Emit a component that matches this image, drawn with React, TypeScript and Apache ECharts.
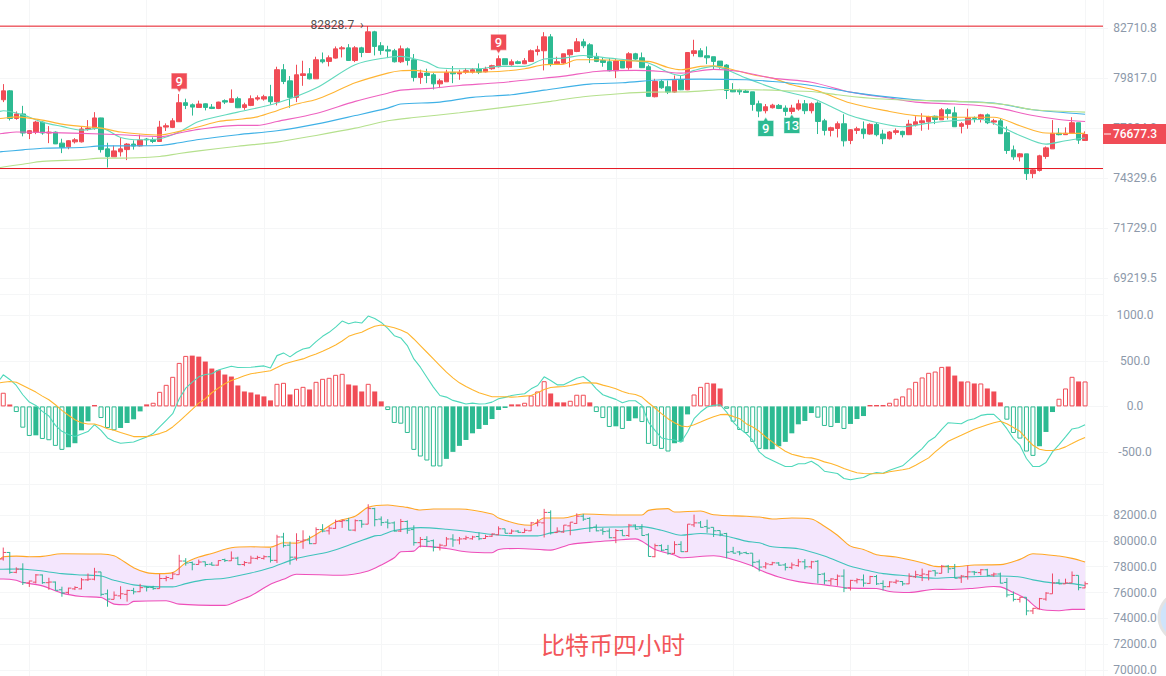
import React, { useEffect, useRef } from "react";
import * as echarts from "echarts";

const RED = "#f04c56";
const GREEN = "#2dba92";
const GRID_LINE = "#f5f6f7";
const LABEL = "#8d99aa";

// [open, close, low, high] per four-hour bar
const candles: number[][] = [
  [78600,79100,78470,79480],[79100,77560,77450,79140],[77560,77810,77490,77950],[77810,76760,76580,78260],
  [76740,76890,76430,76920],[76800,77360,76700,77430],[77360,76760,76670,77395],[76760,76810,76210,77140],
  [76810,76170,76160,76850],[76210,75970,75670,76450],[76010,76340,75880,76370],[76280,76390,76190,76485],
  [76280,76980,76245,77120],[76980,77030,76890,77470],[77030,77590,76940,77910],[77590,75860,75700,77600],
  [75900,75490,74900,76230],[75470,75790,75470,76080],[75740,75900,75490,76485],[75860,76160,75295,76210],
  [76160,76050,75860,76360],[76060,76375,76030,76670],[76430,76390,76080,76485],[76390,76300,76210,76520],
  [76300,77085,76300,77430],[77085,77160,76870,77290],[77070,77430,77030,77575],[77380,78435,77380,78920],
  [78435,78285,78080,78660],[78320,78190,77720,78395],[78170,78360,78170,78550],[78375,78170,78005,78395],
  [78190,78115,78080,78360],[78115,78470,78080,78490],[78550,78470,78360,78620],[78455,78660,78435,79180],
  [78660,78155,78135,78770],[78170,78320,78040,78435],[78285,78660,78245,78845],[78640,78715,78550,78845],
  [78640,78770,78550,78880],[78770,78490,78320,79440],[78490,80300,78285,80470],[80300,79630,79480,80620],
  [79665,78735,78155,79935],[78735,80010,78470,80585],[79970,80065,79385,80815],[80065,79780,79745,80395],
  [79780,80870,79780,81045],[80870,80755,80660,81290],[80775,80985,80490,81120],[80965,81500,80930,81640],
  [81500,81560,81005,81660],[81560,80830,80815,81775],[80830,81560,80735,81660],[81560,81290,81020,81620],
  [81290,82495,81290,82828.7],[82495,81640,81120,82555],[81680,81410,81160,81890],[81445,81370,80965,81680],
  [81390,80755,80715,81500],[80755,81500,80680,81695],[81500,80830,80545,81580],[80870,79860,79630,81200],
  [79860,80105,79495,80300],[80105,79970,79535,80355],[80010,79495,79180,80105],[79495,79665,79255,79780],
  [79610,80145,79610,80300],[80145,80065,79535,80510],[80065,80145,79725,80300],[80160,80240,80065,80395],
  [80160,80300,80085,80395],[80335,80160,80050,80660],[80180,80335,80145,80470],[80355,80530,80300,80585],
  [80470,80930,80430,81120],[80930,80585,80585,80930],[80585,80755,80530,80890],[80755,80660,80620,80830],
  [80640,80815,80620,80965],[80775,81390,80755,81465],[81350,81445,81120,81680],[81390,82200,80260,82475],
  [82200,80620,80490,82360],[80640,80755,80620,81045],[80680,81215,80620,81215],[81160,81445,80430,81445],
  [81350,81910,81310,82125],[81910,81680,81540,82085],[81735,81005,80680,81830],[81065,80775,80735,81270],
  [80830,80715,80470,81005],[80755,80240,80200,80965],[80240,80795,79820,80910],[80795,80395,80395,80870],
  [80415,81215,80300,81310],[81215,80910,80870,81270],[80985,80415,80395,81290],[80470,78790,78790,80585],
  [78770,79630,78735,79780],[79630,79275,79215,79725],[79330,79030,78920,79685],[79030,79705,78990,79970],
  [79725,79160,79140,79970],[79160,81290,79140,81290],[81235,81390,81065,82030],[81390,81045,81025,81540],
  [81100,80985,80620,81640],[81045,80775,80300,81045],[80795,80510,80355,80795],[80565,79120,78640,80620],
  [79160,79045,79030,79535],[79140,79045,78880,79215],[79085,79010,78990,79160],[79045,78340,77990,79045],
  [78375,77970,77630,78550],[77990,78210,77840,78360],[78155,78300,78115,78375],[78285,78115,78080,78360],
  [78135,77950,77705,78285],[77950,78135,77800,78320],[78080,78375,77990,78600],[78375,77990,77800,78585],
  [77990,78375,77840,78450],[78415,77395,76705,78510],[77430,76905,76630,77540],[76905,77050,76575,77105],
  [77010,77270,76520,77395],[77270,76335,76030,77795],[76355,76940,76155,76980],[76905,76995,76705,77105],
  [76980,76725,76450,77395],[76705,77235,76670,77290],[77235,76670,76580,77360],[76705,76450,76155,76940],
  [76450,76815,76410,76870],[76795,76885,76670,77010],[76850,76670,76520,76885],[76670,77250,76650,77485],
  [77215,77375,77120,77685],[77325,77430,76885,77850],[77375,77650,76940,77705],[77685,77505,77250,77720],
  [77485,78040,77485,78135],[78040,77835,77505,78135],[77870,77105,77105,78210],[77125,77270,76740,77360],
  [77235,77595,76995,78100],[77595,77560,77340,77670],[77540,77760,77340,77815],[77760,77325,77250,77835],
  [77360,77430,77215,77540],[77430,76725,76705,77540],[76780,75810,75630,77125],[75845,75470,75310,76080],
  [75470,75630,75225,75670],[75630,74575,74240,75630],[74575,74775,74330,74810],[74740,75525,74685,75580],
  [75490,75955,75365,76030],[75900,76745,75900,77470],[76745,76670,76635,77030],[76670,76745,76670,77070],
  [76745,77325,76745,77630],[77325,76375,76170,77325],[76355,76677.3,76335,76850],
];

const priceLevels = [82828.7, 74844];
const priceTicks = [82710.8, 79817.0, 77024.0, 74329.6, 71729.0, 69219.5];
const macdTicks = [1000, 500, 0, -500];
const bollTicks = [82000, 80000, 78000, 76000, 74000, 72000, 70000];
const timeTicks = [4, 22, 40, 58, 76, 94, 112, 130, 148, 166];
const lastPrice = "76677.3";
const highLabel = "82828.7  ›";
const highBar = 56;
const titleText = "比特币四小时";

// [bar, tip price, text]
const sellTags: [number, number, string][] = [[27, 79059, "9"], [76, 81268, "9"]];
const buyTags: [number, number, string][] = [[117, 77592, "9"], [121, 77757, "13"]];

const ma1 = [[-0.5,77950],[0,77990],[3,77760],[6,77360],[9,77125],[12,76920],[15,77030],[18,76520],[21,76390],[24,76450],[27,76815],[30,77395],[36,77910],[42,78415],[48,79255],[54,80585],[59,81005],[61,81065],[63,80930],[65,80735],[67,80395],[70,80355],[73,80355],[76,80490],[80,80490],[83,80910],[86,80965],[89,81120],[93,80965],[97,80815],[99,80680],[102,80160],[104,79970],[106,80260],[109,80490],[111,80300],[114,79820],[119,79160],[124,78695],[127,78230],[130,77720],[134,77340],[138,77105],[142,77305],[146,77450],[150,77505],[153,77125],[156,76630],[160,76155],[163,76340],[166,76485]];
const ma2 = [[-0.5,77560],[0,77575],[2,77650],[6,77470],[9,77250],[12,77125],[15,77030],[18,76815],[21,76705],[24,76650],[27,76850],[30,77105],[33,77395],[36,77505],[39,77650],[42,77990],[45,78360],[48,78620],[51,79065],[54,79555],[59,80105],[61,80240],[63,80260],[66,80160],[70,80160],[76,80200],[80,80355],[83,80585],[86,80620],[88,80870],[91,80870],[97,80795],[99,80775],[102,80430],[104,80300],[107,80490],[109,80530],[112,80300],[115,80010],[118,79820],[121,79440],[125,79100],[130,78415],[136,77950],[140,77720],[146,77630],[152,77630],[156,77160],[160,76760],[166,76740]];
const ma3 = [[-0.5,76720],[0,76740],[2,76815],[6,76795],[12,76740],[18,76670],[24,76560],[27,76760],[30,76960],[36,77180],[39,77180],[42,77395],[48,77835],[54,78510],[59,78970],[61,79140],[66,79255],[70,79405],[76,79555],[81,79745],[86,79935],[91,80200],[97,80260],[101,80200],[104,80105],[109,80320],[113,80200],[118,79820],[124,79590],[130,79030],[136,78695],[140,78470],[146,78360],[152,78190],[158,77720],[162,77505],[166,77395]];
const ma4 = [[-0.5,75740],[0,75755],[3,75845],[6,75935],[12,75970],[15,76060],[18,76060],[24,76080],[27,76230],[30,76410],[36,76670],[42,76885],[48,77250],[54,77720],[59,78135],[61,78360],[67,78470],[72,78735],[78,78880],[83,79140],[90,79480],[95,79555],[101,79725],[107,79765],[114,79725],[118,79630],[124,79405],[131,78970],[140,78600],[146,78510],[152,78415],[158,78040],[166,77795]];
const ma5 = [[-0.5,74900],[0,74930],[3,75075],[6,75225],[12,75315],[15,75400],[18,75400],[24,75490],[27,75650],[30,75790],[36,76045],[42,76265],[48,76630],[54,77030],[59,77430],[63,77610],[70,77875],[78,78230],[84,78510],[89,78770],[95,78955],[99,79030],[105,79045],[111,79180],[115,79160],[118,79140],[120,79100],[124,79065],[128,78880],[134,78660],[142,78550],[149,78470],[154,78320],[158,78040],[166,77910]];

const macdHist = [150,22,-62,-234,-325,-318,-358,-372,-434,-478,-449,-405,-263,-164,15,-128,-237,-263,-237,-183,-142,-55,22,40,160,237,325,478,555,558,547,493,416,398,350,328,230,164,153,131,110,66,248,259,131,193,215,186,270,303,314,347,358,241,230,164,248,164,55,-40,-182,-190,-292,-478,-551,-595,-660,-660,-577,-500,-434,-369,-296,-248,-204,-139,-40,-18,22,22,40,120,164,277,142,44,44,62,128,128,44,-62,-128,-226,-219,-248,-160,-131,-172,-412,-434,-467,-496,-405,-387,-88,131,215,259,252,197,-26,-168,-259,-292,-390,-467,-471,-471,-438,-390,-296,-197,-160,-73,-124,-215,-226,-182,-248,-193,-139,-106,15,15,15,40,84,110,197,270,318,369,383,434,438,339,274,274,252,252,197,164,44,-146,-292,-354,-496,-544,-438,-281,-62,84,197,325,274,274];
const macdHollow = [0,2,3,4,6,7,8,9,15,16,17,23,24,25,26,27,28,42,43,45,46,48,49,50,51,52,56,59,60,61,62,63,64,65,66,67,80,81,82,83,87,88,89,91,92,93,95,98,99,100,101,102,106,107,108,111,112,113,114,115,116,125,126,127,129,136,137,138,139,140,141,142,143,144,148,150,154,155,156,157,158,162,163,164,166];

const dif = [[-0.5,296],[0,347],[1,296],[2,230],[3,128],[4,47],[5,11],[6,-55],[7,-106],[8,-208],[9,-274],[10,-310],[11,-332],[12,-303],[13,-277],[14,-201],[15,-263],[16,-347],[17,-383],[18,-405],[20,-391],[22,-336],[23,-299],[24,-226],[25,-153],[26,-80],[27,84],[28,201],[29,266],[30,325],[31,350],[32,358],[33,401],[35,442],[36,427],[38,431],[40,445],[41,423],[42,558],[43,588],[44,544],[45,595],[46,631],[47,646],[48,712],[49,770],[50,814],[51,872],[52,938],[53,909],[54,927],[55,916],[56,993],[57,967],[58,923],[59,858],[60,777],[61,752],[62,668],[63,522],[64,431],[65,321],[66,212],[67,120],[68,102],[69,66],[70,47],[71,26],[72,36],[73,26],[74,29],[75,47],[76,84],[77,99],[78,120],[79,131],[80,139],[81,193],[82,230],[83,325],[84,285],[85,237],[86,237],[87,274],[88,310],[89,328],[90,274],[91,193],[92,128],[93,102],[94,77],[95,40],[96,62],[97,62],[98,11],[99,-172],[100,-263],[101,-347],[102,-361],[103,-369],[104,-394],[105,-281],[106,-135],[107,-62],[108,-7],[109,11],[110,18],[111,-62],[112,-172],[113,-245],[114,-299],[115,-372],[116,-500],[117,-560],[119,-628],[120,-661],[121,-661],[122,-631],[123,-631],[124,-602],[125,-646],[126,-712],[128,-737],[129,-792],[130,-807],[131,-792],[132,-781],[133,-745],[134,-726],[135,-734],[136,-701],[138,-653],[139,-591],[140,-526],[141,-464],[142,-383],[143,-336],[144,-252],[145,-179],[147,-190],[148,-153],[149,-135],[150,-99],[151,-88],[152,-88],[153,-153],[154,-245],[155,-354],[156,-427],[157,-573],[158,-661],[159,-661],[160,-617],[161,-500],[162,-420],[163,-336],[164,-248],[165,-234],[166,-201]];
const dea = [[-0.5,259],[0,266],[1,274],[2,266],[3,230],[4,193],[5,157],[6,113],[7,73],[8,18],[9,-44],[10,-98],[11,-146],[12,-179],[13,-193],[14,-193],[15,-215],[16,-245],[17,-263],[18,-288],[19,-310],[20,-332],[22,-332],[23,-318],[24,-299],[25,-274],[26,-226],[27,-164],[28,-99],[29,-33],[30,36],[31,84],[32,150],[33,201],[34,248],[35,285],[36,310],[37,336],[38,358],[39,369],[40,380],[41,391],[42,427],[43,464],[44,485],[45,504],[46,522],[47,551],[48,577],[49,606],[50,639],[51,675],[52,719],[53,770],[54,796],[55,814],[56,850],[57,880],[58,894],[59,880],[60,865],[61,840],[62,807],[63,741],[64,668],[65,595],[66,522],[67,449],[68,376],[69,314],[70,259],[71,219],[72,183],[73,150],[74,128],[75,106],[76,106],[77,106],[78,102],[79,106],[80,113],[81,120],[82,150],[83,186],[84,208],[85,215],[86,219],[87,230],[88,245],[89,259],[90,259],[91,256],[92,234],[93,215],[94,193],[95,164],[96,142],[97,131],[98,102],[99,40],[100,-18],[101,-80],[102,-135],[103,-179],[104,-215],[105,-223],[106,-201],[107,-172],[108,-142],[109,-113],[110,-91],[111,-88],[112,-110],[113,-135],[114,-190],[115,-226],[116,-274],[117,-336],[118,-390],[119,-445],[120,-493],[121,-526],[122,-544],[123,-562],[124,-566],[125,-584],[126,-610],[127,-628],[128,-653],[129,-683],[130,-708],[131,-730],[132,-737],[133,-741],[135,-737],[136,-719],[138,-697],[139,-683],[140,-646],[142,-566],[143,-500],[145,-383],[147,-318],[149,-252],[151,-201],[152,-179],[153,-164],[154,-190],[156,-274],[157,-354],[158,-427],[159,-471],[160,-485],[161,-485],[162,-471],[163,-445],[164,-409],[165,-372],[166,-343]];

const bollUpper = [[-0.5,78565],[0,78770],[2,78820],[4,78770],[6,78795],[9,79000],[15,78975],[17,78845],[18,78565],[20,77925],[22,77540],[24,77460],[26,77540],[28,78310],[30,78745],[32,79025],[35,79460],[38,79540],[41,79515],[43,79850],[45,79820],[48,80490],[51,81460],[54,81900],[56,82590],[59,82770],[60,82720],[62,82590],[64,82385],[66,82460],[70,82460],[75,82075],[76,81770],[79,81310],[81,81205],[83,81770],[86,81770],[89,82075],[94,82000],[98,82000],[99,82360],[102,82490],[103,82230],[107,82310],[109,82025],[114,81900],[116,81845],[118,81690],[121,81770],[124,81690],[126,81130],[128,80435],[130,79590],[132,79335],[134,78925],[137,78745],[141,78310],[143,78025],[146,78000],[149,78130],[153,78155],[156,78565],[158,79000],[162,78820],[164,78640],[166,78360]];
const bollMid = [[-0.5,77795],[0,77795],[2,77820],[5,77720],[9,77460],[12,77360],[15,77280],[17,76950],[20,76590],[24,76435],[26,76435],[28,76690],[31,77000],[34,77100],[38,77510],[41,77920],[45,78640],[50,79155],[54,79845],[57,80385],[58,80435],[60,80795],[64,81025],[68,80900],[72,80690],[75,80490],[79,80385],[82,80385],[84,80615],[87,80795],[91,81050],[95,81075],[98,81100],[101,80820],[104,80435],[107,80565],[111,80360],[114,79975],[116,79845],[118,79540],[122,79385],[126,78820],[130,78025],[133,77665],[135,77460],[139,77280],[143,77100],[147,77205],[151,77255],[153,77280],[156,77205],[158,76975],[161,76745],[164,76690],[166,76540]];
const bollLower = [[-0.5,77050],[0,77050],[2,76950],[3,76770],[6,76515],[9,75950],[12,75690],[15,75615],[17,75100],[19,75050],[20,75310],[25,75360],[27,75100],[34,75000],[36,75360],[38,75745],[41,76640],[43,77025],[45,77410],[52,77330],[56,77665],[58,78130],[60,78690],[61,79155],[63,79205],[64,79590],[68,79410],[71,79155],[75,79080],[76,79335],[79,79410],[84,79280],[87,79720],[91,79925],[94,80050],[97,80155],[98,79975],[100,79335],[103,78900],[104,78690],[109,78845],[111,78690],[115,78050],[116,77770],[119,77205],[122,76845],[126,76590],[130,76335],[134,76310],[136,76075],[139,76000],[143,76255],[145,76230],[149,76335],[152,76460],[153,76435],[155,76000],[157,75490],[159,74720],[162,74590],[164,74690],[166,74690]];

const axisFont = { fontFamily: "Roboto", fontSize: 12, color: LABEL };

function xAxis(gridIndex: number) {
  return {
    type: "value", gridIndex, min: -0.5, max: 168.75,
    axisLabel: { show: false },
    axisTick: { show: false, customValues: timeTicks },
    axisLine: { show: true, onZero: false, lineStyle: { color: GRID_LINE } },
    splitLine: { show: true, lineStyle: { color: GRID_LINE, width: 1 } },
  };
}

function yAxis(gridIndex: number, extra: any, ticks: number[], digits: number) {
  return {
    gridIndex, position: "right", scale: true,
    axisLine: { show: true, onZero: false, lineStyle: { color: GRID_LINE } },
    axisTick: { show: true, length: 5, lineStyle: { color: GRID_LINE }, customValues: ticks },
    axisLabel: {
      ...axisFont, align: "center", margin: 32, customValues: ticks,
      formatter: (v: number) => v.toFixed(digits),
    },
    splitLine: { show: true, lineStyle: { color: GRID_LINE, width: 1 } },
    ...extra,
  };
}

function lineSeries(name: string, data: number[][], color: string, axis: number, smooth: number | boolean, width = 1.1) {
  return {
    type: "line", name, data, xAxisIndex: axis, yAxisIndex: axis, showSymbol: false, smooth,
    lineStyle: { color, width }, itemStyle: { color }, silent: true, z: 3,
  };
}

function tagSeries(tags: [number, number, string][], color: string, up: boolean) {
  const symbol = up
    ? "path://M0 3H5.5L7.5 0L9.5 3H15V18H0Z"
    : "path://M0 0H15V15H9.5L7.5 18L5.5 15H0Z";
  return {
    type: "scatter", xAxisIndex: 0, yAxisIndex: 0, silent: true, z: 5,
    symbol, symbolSize: [15, 18], symbolKeepAspect: false,
    symbolOffset: [0, up ? 9 : -9],
    itemStyle: { color, opacity: 1, borderColor: up ? "rgba(45,186,146,0.35)" : "rgba(240,76,86,0.4)", borderWidth: 1 },
    data: tags.map((t) => ({ value: [t[0], t[1]], name: t[2] })),
    label: {
      show: true, position: "inside", color: "#fff", fontFamily: "Roboto", fontSize: 13, fontWeight: 500,
      offset: [0, up ? 1.5 : -1.5],
      formatter: (p: any) => p.name,
    },
  };
}

export default function App() {
  const ref = useRef<HTMLDivElement>(null);
  useEffect(() => {
    if (!ref.current) return;
    const chart = echarts.init(ref.current, undefined, { renderer: "svg" });
    const xMin = -0.5;
    const xMax = 168.75;
    const option: any = {
      animation: false,
      backgroundColor: "#fff",
      textStyle: { fontFamily: "Roboto" },
      title: {
        text: titleText, left: 536, top: 626,
        textStyle: { color: "#f2565a", fontSize: 24, fontWeight: "normal", fontFamily: "Noto Sans CJK SC" },
      },
      grid: [
        { left: 0, width: 1103, top: 0, height: 294.3, outerBoundsMode: "none" },
        { left: 0, width: 1103, top: 294.3, height: 189.7, outerBoundsMode: "none" },
        { left: 0, width: 1103, top: 484, height: 196, outerBoundsMode: "none" },
      ],
      xAxis: [xAxis(0), xAxis(1), xAxis(2)],
      yAxis: [
        yAxis(0, { type: "log", logBase: 10, min: 68435, max: 84385 }, priceTicks, 1),
        yAxis(1, { type: "value", min: -853, max: 1232 }, macdTicks, 1),
        yAxis(2, { type: "value", min: 69226, max: 84400 }, bollTicks, 1),
      ],
      series: [
        {
          type: "candlestick", xAxisIndex: 0, yAxisIndex: 0, barWidth: 5, silent: true,
          data: candles.map((c, i) => [i, c[0], c[1], c[2], c[3]]),
          encode: { x: 0, y: [1, 2, 3, 4] },
          itemStyle: { color: RED, color0: GREEN, borderColor: RED, borderColor0: GREEN, borderWidth: 1 },
        },
        lineSeries("ma1", ma1, "#62d9bd", 0, 0.3),
        lineSeries("ma2", ma2, "#ffb433", 0, 0.3),
        lineSeries("ma3", ma3, "#ee62c0", 0, 0.3),
        lineSeries("ma4", ma4, "#3fb1e6", 0, 0.3),
        lineSeries("ma5", ma5, "#b5e08d", 0, 0.3),
        ...priceLevels.map((v, k) => ({
          ...lineSeries("level" + k, [[xMin, v], [xMax, v]], "#e5141f", 0, false, 1),
          z: 4,
        })),
        tagSeries(sellTags, RED, false),
        tagSeries(buyTags, GREEN, true),
        {
          type: "scatter", xAxisIndex: 0, yAxisIndex: 0, silent: true, z: 6,
          symbolSize: 1, itemStyle: { color: "rgba(255,255,255,0)" },
          data: [[highBar, candles[highBar][3]]],
          label: {
            show: true, position: "left", distance: 3, color: "#222",
            fontFamily: "Roboto", fontSize: 12, offset: [-1, -1], formatter: highLabel,
          },
        },
        {
          type: "bar", xAxisIndex: 1, yAxisIndex: 1, barWidth: 5, silent: true,
          data: macdHist.map((v, i) => {
            const c = v >= 0 ? RED : GREEN;
            const hollow = macdHollow.includes(i);
            return {
              value: [i, v],
              itemStyle: hollow
                ? { color: "rgba(255,255,255,0)", borderColor: c, borderWidth: 1 }
                : { color: c, borderWidth: 0 },
            };
          }),
        },
        lineSeries("dif", dif, "#4fd8bb", 1, false),
        lineSeries("dea", dea, "#ffb52e", 1, false),
        {
          type: "custom", xAxisIndex: 2, yAxisIndex: 2, silent: true, z: 1,
          data: [[0, 80000]],
          encode: { x: 0, y: 1 },
          renderItem: (_p: any, api: any) => ({
            type: "polygon",
            shape: { points: [...bollUpper, ...[...bollLower].reverse()].map((d) => api.coord(d)) },
            style: { fill: "#f4e6fd" },
          }),
        },
        lineSeries("upper", bollUpper, "#ffa726", 2, 0.3),
        lineSeries("mid", bollMid, "#3fc3bb", 2, 0.3),
        lineSeries("lower", bollLower, "#ee4fb9", 2, 0.3),
        {
          type: "custom", xAxisIndex: 2, yAxisIndex: 2, silent: true, z: 4,
          data: candles.map((c, i) => [i, c[0], c[1], c[2], c[3]]),
          encode: { x: 0, y: [1, 2, 3, 4] },
          renderItem: (_p: any, api: any) => {
            const i = api.value(0);
            const o = api.coord([i, api.value(1)]);
            const c = api.coord([i, api.value(2)]);
            const l = api.coord([i, api.value(3)]);
            const h = api.coord([i, api.value(4)]);
            const stroke = api.value(2) >= api.value(1) ? "#ee4a68" : "#2fb596";
            const style = { stroke, lineWidth: 1, fill: "none" };
            return {
              type: "group",
              children: [
                { type: "line", shape: { x1: l[0], y1: l[1], x2: h[0], y2: h[1] }, style },
                { type: "line", shape: { x1: o[0] - 3, y1: o[1], x2: o[0], y2: o[1] }, style },
                { type: "line", shape: { x1: c[0], y1: c[1], x2: c[0] + 3, y2: c[1] }, style },
              ],
            };
          },
        },
      ],
      graphic: [
        { type: "rect", z: 50, shape: { x: 1103, y: 124, width: 63, height: 20 }, style: { fill: RED } },
        { type: "line", z: 51, shape: { x1: 1104, y1: 134, x2: 1111, y2: 134 }, style: { stroke: "#fff", lineWidth: 1 } },
        {
          type: "text", z: 51, x: 1135, y: 134,
          style: { text: lastPrice, fill: "#fff", font: "500 12px Roboto", align: "center", verticalAlign: "middle" },
        },
        { type: "circle", z: 52, shape: { cx: 1184, cy: 617, r: 25 }, style: { fill: "#cfe4fb", stroke: "#e3e3e3", lineWidth: 3 } },
      ],
    };
    chart.setOption(option);
    return () => chart.dispose();
  }, []);
  return <div ref={ref} style={{ position: "absolute", left: 0, top: 0, width: 1166, height: 676, overflow: "hidden" }} />;
}
